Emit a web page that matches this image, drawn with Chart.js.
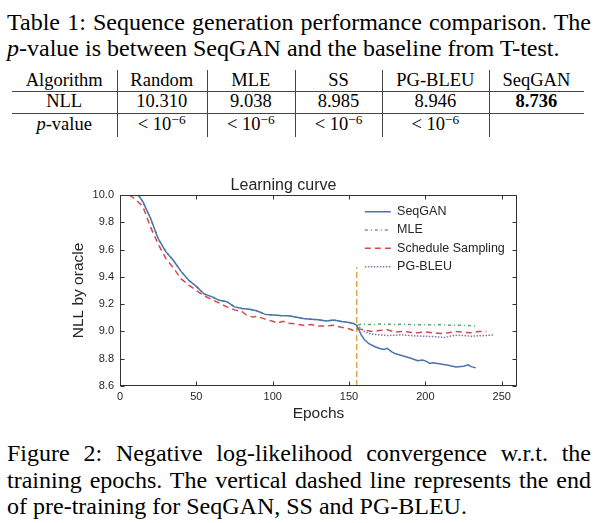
<!DOCTYPE html>
<html>
<head>
<meta charset="utf-8">
<script src="https://cdn.jsdelivr.net/npm/chart.js@4.4.1/dist/chart.umd.min.js"></script>
<style>
html,body{margin:0;padding:0;background:#fff;}
body{width:596px;height:523px;position:relative;overflow:hidden;font-family:'Liberation Serif','Times New Roman',serif;color:#000;}
.cap{position:absolute;left:7px;width:584px;font-size:24px;line-height:26.5px;}
.cap div{white-space:nowrap;}
.cap div.j{text-align:justify;text-align-last:justify;}
.cell{position:absolute;font-size:18.5px;line-height:20px;text-align:center;white-space:nowrap;}
.sup{position:relative;top:-0.45em;font-size:0.72em;line-height:0;}
.hr{position:absolute;height:1px;background:#444;}
.vr{position:absolute;width:1px;background:#444;}
#wrap{position:absolute;left:50px;top:170px;width:490px;height:260px;}
</style>
</head>
<body>
<div class="cap" style="top:8.6px">
  <div class="j">Table 1: Sequence generation performance comparison. The</div>
  <div><i>p</i>-value is between SeqGAN and the baseline from T-test.</div>
</div>
<div id="table"></div>
<div id="wrap"><canvas id="c" width="490" height="260"></canvas></div>
<div class="cap" style="top:440px">
  <div class="j">Figure 2: Negative log-likelihood convergence w.r.t. the</div>
  <div class="j">training epochs. The vertical dashed line represents the end</div>
  <div>of pre-training for SeqGAN, SS and PG-BLEU.</div>
</div>
<script>
// ---------- Table data ----------
const algorithms = ['Random', 'MLE', 'SS', 'PG-BLEU', 'SeqGAN'];
const nllValues = ['10.310', '9.038', '8.985', '8.946', '8.736'];
const pExponents = [-6, -6, -6, -6, null];

// ---------- Chart data ----------
// Shared MLE pre-training (SeqGAN and MLE identical up to epoch 155)
const pretrainEpochs = [12,15,20,25,30,35,40,45,50,55,60,65,70,75,80,85,90,95,100,105,110,115,120,125,130,135,140,145,150,153,155];
const pretrainNLL = [10.00,9.95,9.83,9.68,9.585,9.52,9.44,9.375,9.33,9.275,9.255,9.228,9.218,9.18,9.168,9.162,9.15,9.125,9.12,9.116,9.115,9.105,9.095,9.09,9.085,9.076,9.083,9.073,9.065,9.058,9.045];

const seqganAdvEpochs = [158,160,163,167,170,173,175,178,180,185,190,195,198,200,203,205,210,215,220,225,228,230,233];
const seqganAdvNLL = [8.975,8.94,8.91,8.888,8.875,8.868,8.876,8.85,8.838,8.822,8.805,8.785,8.79,8.784,8.765,8.77,8.762,8.752,8.74,8.745,8.755,8.742,8.733];

const mleAdvEpochs = [158,160,165,170,175,180,185,190,195,200,205,210,215,220,225,230,233];
const mleAdvNLL = [9.053,9.052,9.05,9.054,9.052,9.05,9.053,9.05,9.048,9.05,9.047,9.05,9.045,9.046,9.044,9.042,9.04];

const ssEpochs = [6,10,15,20,25,30,35,40,45,50,55,60,65,70,75,80,83,87,90,95,100,103,107,110,115,120,125,130,135,140,145,150,153,155,158,160,165,170,175,180,185,190,195,200,205,210,215,220,225,230,235,240];
const ssNLL = [10.0,9.97,9.915,9.765,9.64,9.535,9.465,9.385,9.34,9.3,9.262,9.235,9.208,9.18,9.158,9.145,9.118,9.105,9.11,9.09,9.075,9.062,9.075,9.06,9.055,9.045,9.05,9.04,9.04,9.045,9.03,9.02,9.006,9.02,9.015,9.01,9.0,9.006,9.012,8.995,9.0,8.994,8.99,8.996,8.99,8.985,8.99,9.0,8.994,8.99,9.0,9.0];

const pgEpochs = [155,158,160,163,165,170,175,180,185,190,195,200,205,210,213,215,220,225,230,235,240,245];
const pgNLL = [9.045,9.02,9.0,8.985,8.98,8.975,8.97,8.972,8.975,8.97,8.966,8.965,8.962,8.958,8.955,8.962,8.972,8.97,8.965,8.968,8.97,8.975];

const pretrainEndEpoch = [155, 155];
const pretrainEndNLL = [8.6, 9.47];

const seriesLabels = ['SeqGAN', 'MLE', 'Schedule Sampling', 'PG-BLEU'];
const xTickStep = 50, yTickStep = 0.2;

// ---------- Build table ----------
(function buildTable() {
  const t = document.getElementById('table');
  const cols = [11.7, 116.7, 206.7, 295, 382, 488.7, 584];
  const rowTops = [69.8, 90.5, 114.2];
  const add = (html, c, r, bold) => {
    const d = document.createElement('div');
    d.className = 'cell';
    d.style.left = cols[c] + 'px';
    d.style.width = (cols[c + 1] - cols[c]) + 'px';
    d.style.top = rowTops[r] + 'px';
    if (bold) d.style.fontWeight = 'bold';
    d.innerHTML = html;
    t.appendChild(d);
  };
  add('Algorithm', 0, 0);
  add('NLL', 0, 1);
  add('<i>p</i>-value', 0, 2);
  algorithms.forEach((a, i) => {
    add(a, i + 1, 0);
    add(nllValues[i], i + 1, 1, i === algorithms.length - 1);
    if (pExponents[i] !== null) {
      add('&lt;&nbsp;10<span class="sup">\u2212' + Math.abs(pExponents[i]) + '</span>', i + 1, 2);
    }
  });
  [91.2, 112.8].forEach(y => {
    const h = document.createElement('div');
    h.className = 'hr';
    h.style.left = cols[0] + 'px';
    h.style.width = (cols[cols.length - 1] - cols[0]) + 'px';
    h.style.top = y + 'px';
    t.appendChild(h);
  });
  cols.slice(1, -1).forEach(x => {
    const v = document.createElement('div');
    v.className = 'vr';
    v.style.left = x + 'px';
    v.style.top = '70px';
    v.style.height = '67px';
    t.appendChild(v);
  });
})();

// ---------- Chart ----------
const toPts = (xs, ys) => xs.map((x, i) => ({x: x, y: ys[i]}));
const seqganData = toPts(pretrainEpochs, pretrainNLL).concat(toPts(seqganAdvEpochs, seqganAdvNLL));
const mleData = toPts(pretrainEpochs, pretrainNLL).concat(toPts(mleAdvEpochs, mleAdvNLL));
const ssData = toPts(ssEpochs, ssNLL);
const pgData = toPts(pgEpochs, pgNLL);
const vlineData = toPts(pretrainEndEpoch, pretrainEndNLL);

const TEXT = '#262626';
Chart.defaults.font.family = "'Liberation Sans', Arial, sans-serif";
Chart.defaults.color = TEXT;

const framePlugin = {
  id: 'frame',
  afterDatasetsDraw(chart) {
    const {ctx, chartArea: a, scales} = chart;
    const x = scales.x, y = scales.y;
    ctx.save();
    ctx.strokeStyle = '#333';
    ctx.lineWidth = 1;
    ctx.setLineDash([]);
    const L = a.left + 0.5, R = a.right - 0.5, T = a.top + 0.5, B = a.bottom - 0.5;
    ctx.strokeRect(L, T, R - L, B - T);
    const len = 4;
    ctx.beginPath();
    x.ticks.forEach(t => {
      const px = Math.round(x.getPixelForValue(t.value)) + 0.5;
      ctx.moveTo(px, B); ctx.lineTo(px, B - len);
      ctx.moveTo(px, T); ctx.lineTo(px, T + len);
    });
    y.ticks.forEach(t => {
      const py = Math.round(y.getPixelForValue(t.value)) + 0.5;
      ctx.moveTo(L, py); ctx.lineTo(L + len, py);
      ctx.moveTo(R, py); ctx.lineTo(R - len, py);
    });
    ctx.stroke();
    ctx.restore();
  }
};

// place legend inside the plot, upper right (like the reference)
const legendPlace = {
  id: 'legendPlace',
  afterLayout(chart) {
    const lg = chart.legend;
    if (!lg) return;
    const targetLeft = 309, targetTop = 29.6;
    const dx = targetLeft - lg.left, dy = targetTop - lg.top;
    lg.left += dx; lg.right += dx; lg.top += dy; lg.bottom += dy;
  }
};

const common = {pointRadius: 0, pointHoverRadius: 0, fill: false, tension: 0, borderWidth: 1.5};

new Chart(document.getElementById('c'), {
  type: 'line',
  data: {
    datasets: [
      Object.assign({label: seriesLabels[0], data: seqganData, borderColor: '#4C72B0', backgroundColor: '#4C72B0'}, common),
      Object.assign({label: seriesLabels[1], data: mleData, borderColor: '#55A868', backgroundColor: '#55A868', borderDash: [3, 3, 1, 3]}, common),
      Object.assign({label: seriesLabels[2], data: ssData, borderColor: '#D24A4E', backgroundColor: '#D24A4E', borderDash: [6, 4]}, common),
      Object.assign({label: seriesLabels[3], data: pgData, borderColor: '#8172B2', backgroundColor: '#8172B2', borderDash: [1.5, 1.5]}, common),
      Object.assign({label: 'pre-training end', data: vlineData, borderColor: '#D9A93F', backgroundColor: '#D9A93F', borderDash: [6, 3]}, common)
    ]
  },
  options: {
    responsive: false,
    animation: false,
    events: [],
    layout: {padding: {left: 0, right: 23, top: 0, bottom: 0}},
    scales: {
      x: {
        type: 'linear', min: 0, max: 260,
        ticks: {stepSize: xTickStep, includeBounds: false, padding: 4, font: {size: 11}, color: TEXT, maxRotation: 0},
        grid: {display: false, drawTicks: false},
        border: {display: false},
        title: {display: true, text: 'Epochs', font: {size: 15.5}, color: TEXT, padding: {top: 0, bottom: 7}},
        afterFit(s) { s.height = 44; }
      },
      y: {
        type: 'linear', min: 8.6, max: 10.0,
        ticks: {stepSize: yTickStep, padding: 6, font: {size: 11}, color: TEXT, callback: v => Number(v).toFixed(1)},
        grid: {display: false, drawTicks: false},
        border: {display: false},
        title: {display: true, text: 'NLL by oracle', font: {size: 15.5}, color: TEXT, padding: {top: 19.4, bottom: 0}},
        afterFit(s) { s.width = 70; }
      }
    },
    plugins: {
      title: {display: true, text: 'Learning curve', color: TEXT, font: {size: 16, weight: 'normal', lineHeight: 1}, padding: {top: 7.8, bottom: 1.2}},
      legend: {
        position: 'chartArea', align: 'start',
        labels: {
          usePointStyle: true, pointStyle: 'line', pointStyleWidth: 26,
          padding: 5.83, font: {size: 12.5}, color: TEXT,
          filter: item => item.datasetIndex < seriesLabels.length,
          generateLabels(chart) {
            const items = Chart.defaults.plugins.legend.labels.generateLabels(chart);
            items.forEach(it => {
              const ds = chart.data.datasets[it.datasetIndex];
              it.lineDash = ds.borderDash || [];
              it.strokeStyle = ds.borderColor;
              it.fillStyle = ds.borderColor;
              it.lineWidth = ds.borderWidth;
              it.fontColor = TEXT;
            });
            return items;
          }
        }
      },
      tooltip: {enabled: false}
    }
  },
  plugins: [framePlugin, legendPlace]
});
</script>
</body>
</html>
